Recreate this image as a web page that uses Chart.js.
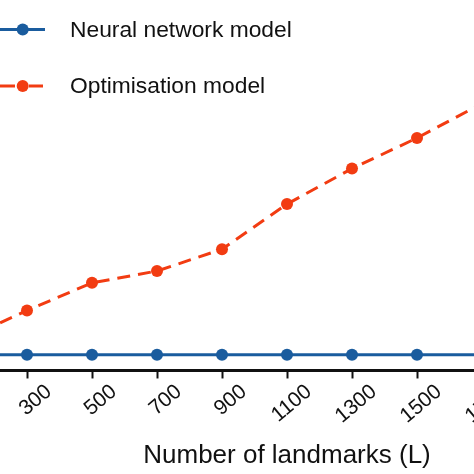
<!DOCTYPE html>
<html>
<head>
<meta charset="utf-8">
<script src="https://cdn.jsdelivr.net/npm/chart.js@4"></script>
<style>
  html, body { margin: 0; padding: 0; background: #fff; }
  #wrap { position: relative; width: 474px; height: 474px; overflow: hidden; background: #fff; }
  #c { position: absolute; left: -120px; top: 0; }
</style>
</head>
<body>
<div id="wrap"><canvas id="c" width="800" height="474"></canvas></div>
<script>
const landmarks = [100, 300, 500, 700, 900, 1100, 1300, 1500, 1700];
const neuralNetwork = [1, 1, 1, 1, 1, 1, 1, 1, 1];
const optimisation = [1.9, 3.81, 5.56, 6.31, 7.69, 10.56, 12.81, 14.75, 16.94];
const seriesNames = ['Neural network model', 'Optimisation model'];
const xTitle = 'Number of landmarks (L)';

const BLUE = '#1a5c9e';
const ORANGE = '#f23c12';
const OFFSET = 120; // canvas px hidden on the left

const legendPlugin = {
  id: 'customLegend',
  afterDraw(chart) {
    const ctx = chart.ctx;
    ctx.save();
    const rows = [
      { name: seriesNames[0], color: BLUE, dashed: false, y: 29.5 },
      { name: seriesNames[1], color: ORANGE, dashed: true, y: 86 }
    ];
    rows.forEach(r => {
      ctx.strokeStyle = r.color;
      ctx.lineWidth = 3;
      ctx.beginPath();
      if (r.dashed) {
        ctx.moveTo(OFFSET - 2, r.y); ctx.lineTo(OFFSET + 15, r.y);
        ctx.moveTo(OFFSET + 29, r.y); ctx.lineTo(OFFSET + 43, r.y);
      } else {
        ctx.moveTo(OFFSET - 2, r.y); ctx.lineTo(OFFSET + 45, r.y);
      }
      ctx.stroke();
      ctx.fillStyle = r.color;
      ctx.beginPath();
      ctx.arc(OFFSET + 22.7, r.y, 6, 0, Math.PI * 2);
      ctx.fill();
      ctx.fillStyle = '#111';
      ctx.font = '22.8px "Liberation Sans", Arial, sans-serif';
      ctx.textBaseline = 'middle';
      ctx.textAlign = 'left';
      ctx.fillText(r.name, OFFSET + 70, r.y + 1);
    });
    ctx.restore();
  }
};

new Chart(document.getElementById('c'), {
  type: 'line',
  data: {
    datasets: [
      {
        label: seriesNames[0],
        data: landmarks.map((x, i) => ({ x, y: neuralNetwork[i] })),
        borderColor: BLUE, backgroundColor: BLUE,
        borderWidth: 3, pointRadius: 6, pointHoverRadius: 6,
        pointBorderWidth: 0, tension: 0
      },
      {
        label: seriesNames[1],
        data: landmarks.map((x, i) => ({ x, y: optimisation[i] })),
        borderColor: ORANGE, backgroundColor: ORANGE,
        borderWidth: 3, borderDash: [13, 8], pointRadius: 6, pointHoverRadius: 6,
        pointBorderWidth: 0, tension: 0
      }
    ]
  },
  options: {
    responsive: false,
    animation: false,
    devicePixelRatio: 1,
    layout: { padding: { left: 82, right: 68, top: 0, bottom: 3 } },
    plugins: { legend: { display: false }, tooltip: { enabled: false } },
    scales: {
      x: {
        type: 'linear', min: 100, max: 2100,
        ticks: {
          stepSize: 200, color: '#111', maxRotation: 40, minRotation: 40,
          font: { family: '"Liberation Sans", Arial, sans-serif', size: 21 },
          padding: 1, labelOffset: 22,
          callback: (v) => String(v)
        },
        grid: { drawOnChartArea: false, drawTicks: true, tickLength: 8, tickWidth: 2, tickColor: '#111' },
        border: { display: true, color: '#111', width: 3 },
        title: {
          display: true, text: xTitle, color: '#111',
          font: { family: '"Liberation Sans", Arial, sans-serif', size: 26 },
          padding: { top: 10, bottom: 0 }
        }
      },
      y: { display: false, min: 0, max: 23.125 }
    }
  },
  plugins: [legendPlugin]
});
</script>
</body>
</html>
